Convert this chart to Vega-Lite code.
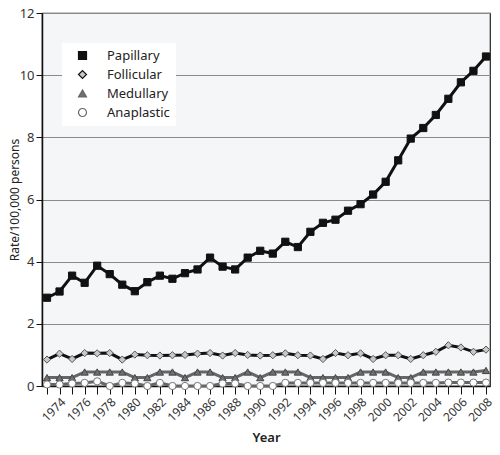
{
  "$schema": "https://vega.github.io/schema/vega-lite/v6.json",
  "width": 448,
  "height": 373,
  "autosize": {"type": "none"},
  "padding": {"left": 42, "top": 13, "right": 10, "bottom": 69},
  "background": "white",
  "config": {
    "font": "Noto Sans",
    "view": {"fill": "#f4f6f7", "stroke": "#222", "strokeWidth": 1.2},
    "axis": {"labelColor": "#333", "titleColor": "#222", "domainColor": "#111", "tickColor": "#111", "domainWidth": 1.5}
  },
  "data": {
    "values": [
      {"Year": 1973, "Type": "Papillary", "Rate": 2.84},
      {"Year": 1974, "Type": "Papillary", "Rate": 3.04},
      {"Year": 1975, "Type": "Papillary", "Rate": 3.55},
      {"Year": 1976, "Type": "Papillary", "Rate": 3.32},
      {"Year": 1977, "Type": "Papillary", "Rate": 3.87},
      {"Year": 1978, "Type": "Papillary", "Rate": 3.6},
      {"Year": 1979, "Type": "Papillary", "Rate": 3.26},
      {"Year": 1980, "Type": "Papillary", "Rate": 3.05},
      {"Year": 1981, "Type": "Papillary", "Rate": 3.34},
      {"Year": 1982, "Type": "Papillary", "Rate": 3.55},
      {"Year": 1983, "Type": "Papillary", "Rate": 3.45},
      {"Year": 1984, "Type": "Papillary", "Rate": 3.63},
      {"Year": 1985, "Type": "Papillary", "Rate": 3.75},
      {"Year": 1986, "Type": "Papillary", "Rate": 4.13},
      {"Year": 1987, "Type": "Papillary", "Rate": 3.84},
      {"Year": 1988, "Type": "Papillary", "Rate": 3.75},
      {"Year": 1989, "Type": "Papillary", "Rate": 4.13},
      {"Year": 1990, "Type": "Papillary", "Rate": 4.35},
      {"Year": 1991, "Type": "Papillary", "Rate": 4.26},
      {"Year": 1992, "Type": "Papillary", "Rate": 4.64},
      {"Year": 1993, "Type": "Papillary", "Rate": 4.47},
      {"Year": 1994, "Type": "Papillary", "Rate": 4.96},
      {"Year": 1995, "Type": "Papillary", "Rate": 5.25},
      {"Year": 1996, "Type": "Papillary", "Rate": 5.35},
      {"Year": 1997, "Type": "Papillary", "Rate": 5.64},
      {"Year": 1998, "Type": "Papillary", "Rate": 5.85},
      {"Year": 1999, "Type": "Papillary", "Rate": 6.16},
      {"Year": 2000, "Type": "Papillary", "Rate": 6.57},
      {"Year": 2001, "Type": "Papillary", "Rate": 7.26},
      {"Year": 2002, "Type": "Papillary", "Rate": 7.96},
      {"Year": 2003, "Type": "Papillary", "Rate": 8.3},
      {"Year": 2004, "Type": "Papillary", "Rate": 8.72},
      {"Year": 2005, "Type": "Papillary", "Rate": 9.24},
      {"Year": 2006, "Type": "Papillary", "Rate": 9.77},
      {"Year": 2007, "Type": "Papillary", "Rate": 10.14},
      {"Year": 2008, "Type": "Papillary", "Rate": 10.6},
      {"Year": 1973, "Type": "Follicular", "Rate": 0.85},
      {"Year": 1974, "Type": "Follicular", "Rate": 1.04},
      {"Year": 1975, "Type": "Follicular", "Rate": 0.87},
      {"Year": 1976, "Type": "Follicular", "Rate": 1.06},
      {"Year": 1977, "Type": "Follicular", "Rate": 1.05},
      {"Year": 1978, "Type": "Follicular", "Rate": 1.06},
      {"Year": 1979, "Type": "Follicular", "Rate": 0.85},
      {"Year": 1980, "Type": "Follicular", "Rate": 1.01},
      {"Year": 1981, "Type": "Follicular", "Rate": 0.99},
      {"Year": 1982, "Type": "Follicular", "Rate": 0.98},
      {"Year": 1983, "Type": "Follicular", "Rate": 0.99},
      {"Year": 1984, "Type": "Follicular", "Rate": 1.0},
      {"Year": 1985, "Type": "Follicular", "Rate": 1.04},
      {"Year": 1986, "Type": "Follicular", "Rate": 1.06},
      {"Year": 1987, "Type": "Follicular", "Rate": 0.98},
      {"Year": 1988, "Type": "Follicular", "Rate": 1.06},
      {"Year": 1989, "Type": "Follicular", "Rate": 1.0},
      {"Year": 1990, "Type": "Follicular", "Rate": 0.98},
      {"Year": 1991, "Type": "Follicular", "Rate": 0.99},
      {"Year": 1992, "Type": "Follicular", "Rate": 1.05},
      {"Year": 1993, "Type": "Follicular", "Rate": 0.99},
      {"Year": 1994, "Type": "Follicular", "Rate": 0.98},
      {"Year": 1995, "Type": "Follicular", "Rate": 0.87},
      {"Year": 1996, "Type": "Follicular", "Rate": 1.06},
      {"Year": 1997, "Type": "Follicular", "Rate": 0.99},
      {"Year": 1998, "Type": "Follicular", "Rate": 1.05},
      {"Year": 1999, "Type": "Follicular", "Rate": 0.87},
      {"Year": 2000, "Type": "Follicular", "Rate": 0.99},
      {"Year": 2001, "Type": "Follicular", "Rate": 0.99},
      {"Year": 2002, "Type": "Follicular", "Rate": 0.87},
      {"Year": 2003, "Type": "Follicular", "Rate": 0.99},
      {"Year": 2004, "Type": "Follicular", "Rate": 1.1},
      {"Year": 2005, "Type": "Follicular", "Rate": 1.31},
      {"Year": 2006, "Type": "Follicular", "Rate": 1.24},
      {"Year": 2007, "Type": "Follicular", "Rate": 1.1},
      {"Year": 2008, "Type": "Follicular", "Rate": 1.17},
      {"Year": 1973, "Type": "Medullary", "Rate": 0.27},
      {"Year": 1974, "Type": "Medullary", "Rate": 0.27},
      {"Year": 1975, "Type": "Medullary", "Rate": 0.27},
      {"Year": 1976, "Type": "Medullary", "Rate": 0.45},
      {"Year": 1977, "Type": "Medullary", "Rate": 0.45},
      {"Year": 1978, "Type": "Medullary", "Rate": 0.45},
      {"Year": 1979, "Type": "Medullary", "Rate": 0.45},
      {"Year": 1980, "Type": "Medullary", "Rate": 0.27},
      {"Year": 1981, "Type": "Medullary", "Rate": 0.27},
      {"Year": 1982, "Type": "Medullary", "Rate": 0.45},
      {"Year": 1983, "Type": "Medullary", "Rate": 0.45},
      {"Year": 1984, "Type": "Medullary", "Rate": 0.27},
      {"Year": 1985, "Type": "Medullary", "Rate": 0.45},
      {"Year": 1986, "Type": "Medullary", "Rate": 0.45},
      {"Year": 1987, "Type": "Medullary", "Rate": 0.27},
      {"Year": 1988, "Type": "Medullary", "Rate": 0.27},
      {"Year": 1989, "Type": "Medullary", "Rate": 0.45},
      {"Year": 1990, "Type": "Medullary", "Rate": 0.27},
      {"Year": 1991, "Type": "Medullary", "Rate": 0.45},
      {"Year": 1992, "Type": "Medullary", "Rate": 0.45},
      {"Year": 1993, "Type": "Medullary", "Rate": 0.45},
      {"Year": 1994, "Type": "Medullary", "Rate": 0.27},
      {"Year": 1995, "Type": "Medullary", "Rate": 0.27},
      {"Year": 1996, "Type": "Medullary", "Rate": 0.27},
      {"Year": 1997, "Type": "Medullary", "Rate": 0.27},
      {"Year": 1998, "Type": "Medullary", "Rate": 0.45},
      {"Year": 1999, "Type": "Medullary", "Rate": 0.45},
      {"Year": 2000, "Type": "Medullary", "Rate": 0.45},
      {"Year": 2001, "Type": "Medullary", "Rate": 0.27},
      {"Year": 2002, "Type": "Medullary", "Rate": 0.27},
      {"Year": 2003, "Type": "Medullary", "Rate": 0.45},
      {"Year": 2004, "Type": "Medullary", "Rate": 0.45},
      {"Year": 2005, "Type": "Medullary", "Rate": 0.45},
      {"Year": 2006, "Type": "Medullary", "Rate": 0.45},
      {"Year": 2007, "Type": "Medullary", "Rate": 0.45},
      {"Year": 2008, "Type": "Medullary", "Rate": 0.5},
      {"Year": 1973, "Type": "Anaplastic", "Rate": 0.05},
      {"Year": 1974, "Type": "Anaplastic", "Rate": 0.05},
      {"Year": 1975, "Type": "Anaplastic", "Rate": 0.08},
      {"Year": 1976, "Type": "Anaplastic", "Rate": 0.1},
      {"Year": 1977, "Type": "Anaplastic", "Rate": 0.15},
      {"Year": 1978, "Type": "Anaplastic", "Rate": 0.0},
      {"Year": 1979, "Type": "Anaplastic", "Rate": 0.1},
      {"Year": 1980, "Type": "Anaplastic", "Rate": 0.08},
      {"Year": 1981, "Type": "Anaplastic", "Rate": 0.0},
      {"Year": 1982, "Type": "Anaplastic", "Rate": 0.1},
      {"Year": 1983, "Type": "Anaplastic", "Rate": 0.0},
      {"Year": 1984, "Type": "Anaplastic", "Rate": 0.0},
      {"Year": 1985, "Type": "Anaplastic", "Rate": 0.0},
      {"Year": 1986, "Type": "Anaplastic", "Rate": 0.0},
      {"Year": 1987, "Type": "Anaplastic", "Rate": 0.08},
      {"Year": 1988, "Type": "Anaplastic", "Rate": 0.08},
      {"Year": 1989, "Type": "Anaplastic", "Rate": 0.0},
      {"Year": 1990, "Type": "Anaplastic", "Rate": 0.0},
      {"Year": 1991, "Type": "Anaplastic", "Rate": 0.0},
      {"Year": 1992, "Type": "Anaplastic", "Rate": 0.1},
      {"Year": 1993, "Type": "Anaplastic", "Rate": 0.1},
      {"Year": 1994, "Type": "Anaplastic", "Rate": 0.1},
      {"Year": 1995, "Type": "Anaplastic", "Rate": 0.1},
      {"Year": 1996, "Type": "Anaplastic", "Rate": 0.1},
      {"Year": 1997, "Type": "Anaplastic", "Rate": 0.1},
      {"Year": 1998, "Type": "Anaplastic", "Rate": 0.1},
      {"Year": 1999, "Type": "Anaplastic", "Rate": 0.1},
      {"Year": 2000, "Type": "Anaplastic", "Rate": 0.1},
      {"Year": 2001, "Type": "Anaplastic", "Rate": 0.1},
      {"Year": 2002, "Type": "Anaplastic", "Rate": 0.1},
      {"Year": 2003, "Type": "Anaplastic", "Rate": 0.1},
      {"Year": 2004, "Type": "Anaplastic", "Rate": 0.1},
      {"Year": 2005, "Type": "Anaplastic", "Rate": 0.11},
      {"Year": 2006, "Type": "Anaplastic", "Rate": 0.11},
      {"Year": 2007, "Type": "Anaplastic", "Rate": 0.11},
      {"Year": 2008, "Type": "Anaplastic", "Rate": 0.11}
    ]
  },
  "encoding": {
    "x": {
      "field": "Year",
      "type": "quantitative",
      "scale": {"domain": [1972.6, 2008.32], "nice": false, "zero": false},
      "axis": {
        "title": "Year",
        "titleFontSize": 13,
        "titleFontWeight": 600,
        "titlePadding": 8,
        "values": [1973, 1974, 1975, 1976, 1977, 1978, 1979, 1980, 1981, 1982, 1983, 1984, 1985, 1986, 1987, 1988, 1989, 1990, 1991, 1992, 1993, 1994, 1995, 1996, 1997, 1998, 1999, 2000, 2001, 2002, 2003, 2004, 2005, 2006, 2007, 2008],
        "format": "d",
        "labelExpr": "datum.value % 2 == 0 ? datum.label : ''",
        "labelAngle": -45,
        "labelFontSize": 12,
        "labelOverlap": false,
        "labelPadding": 2,
        "tickSize": 8,
        "grid": false
      }
    },
    "y": {
      "field": "Rate",
      "type": "quantitative",
      "scale": {"domain": [0, 12], "nice": false},
      "axis": {
        "title": "Rate/100,000 persons",
        "titleFontSize": 12,
        "titleFontWeight": "normal",
        "titlePadding": -2,
        "values": [0, 2, 4, 6, 8, 10, 12],
        "labelFontSize": 13,
        "labelPadding": 2,
        "tickSize": 6,
        "grid": true,
        "gridColor": "#8a8a8a",
        "gridWidth": 1
      }
    }
  },
  "layer": [
    {
      "mark": {"type": "line", "strokeWidth": 3},
      "encoding": {
        "color": {
          "field": "Type",
          "type": "nominal",
          "title": null,
          "scale": {"domain": ["Papillary", "Follicular", "Medullary", "Anaplastic"], "range": ["#111111", "#111111", "#666666", "#666666"]}
        }
      }
    },
    {
      "mark": {"type": "point", "filled": true, "size": 52, "strokeWidth": 1, "opacity": 1},
      "encoding": {
        "shape": {
          "field": "Type",
          "type": "nominal",
          "title": null,
          "scale": {"domain": ["Papillary", "Follicular", "Medullary", "Anaplastic"], "range": ["square", "diamond", "triangle-up", "circle"]},
          "legend": {
            "orient": "none",
            "legendX": 20,
            "legendY": 30,
            "fillColor": "white",
            "padding": 6,
            "symbolSize": 64,
            "symbolStrokeWidth": 1.2,
            "symbolOffset": 8,
            "labelOffset": 18,
            "rowPadding": 5,
            "labelFontSize": 13,
            "labelColor": "#222"
          }
        },
        "fill": {
          "field": "Type",
          "type": "nominal",
          "title": null,
          "scale": {"domain": ["Papillary", "Follicular", "Medullary", "Anaplastic"], "range": ["#111111", "#c8c8c8", "#707070", "#ffffff"]}
        },
        "stroke": {
          "field": "Type",
          "type": "nominal",
          "title": null,
          "scale": {"domain": ["Papillary", "Follicular", "Medullary", "Anaplastic"], "range": ["#111111", "#555555", "#444444", "#777777"]}
        }
      }
    }
  ]
}
